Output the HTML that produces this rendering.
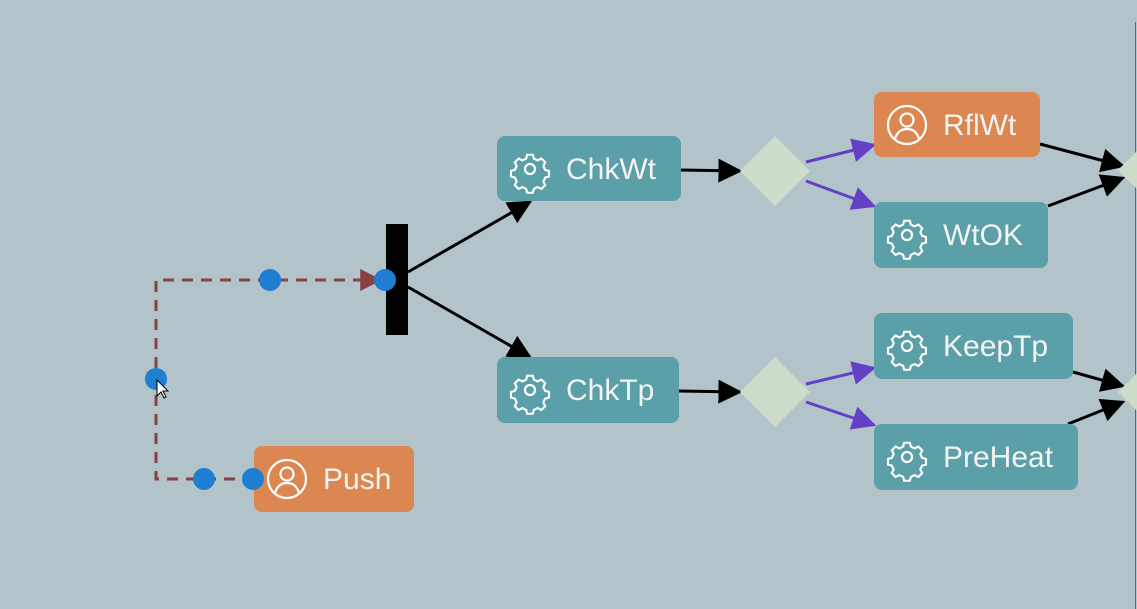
<!DOCTYPE html>
<html><head><style>
body{margin:0;width:1137px;height:609px;background:#b2c3c9;overflow:hidden;font-family:"Liberation Sans",sans-serif;position:relative}
.n{position:absolute;border-radius:8px;color:#f4f4f4;font-size:30px;display:flex;align-items:center;box-sizing:border-box;padding-left:69px;padding-top:2px}
.t{background:#5b9fa8}.o{background:#dc8651}
svg{position:absolute;left:0;top:0}
</style></head><body>
<svg width="1137" height="609">
<defs>
<marker id="ab" viewBox="0 0 10 10" refX="9" refY="5" markerWidth="24" markerHeight="24" markerUnits="userSpaceOnUse" orient="auto"><path d="M0,0L10,5L0,10z" fill="#000"/></marker>
<marker id="ap" viewBox="0 0 10 10" refX="9" refY="5" markerWidth="24" markerHeight="24" markerUnits="userSpaceOnUse" orient="auto"><path d="M0,0L10,5L0,10z" fill="#6440c4"/></marker>
<marker id="ar" viewBox="0 0 10 10" refX="9" refY="5" markerWidth="22" markerHeight="22" markerUnits="userSpaceOnUse" orient="auto"><path d="M0,0L10,5L0,10z" fill="#874244"/></marker>
</defs>
<line x1="1135.5" y1="22" x2="1135.5" y2="609" stroke="#666" stroke-width="1"/>
<path d="M254,479 H156 V280 H380" fill="none" stroke="#874244" stroke-width="3" stroke-dasharray="11,8" marker-end="url(#ar)"/>
<rect x="386" y="224" width="22" height="111" fill="#000"/>
<g stroke="#000" stroke-width="3" fill="none">
<line x1="408" y1="272" x2="530" y2="202" marker-end="url(#ab)"/>
<line x1="408" y1="287" x2="530" y2="357" marker-end="url(#ab)"/>
<line x1="681" y1="170" x2="740" y2="171" marker-end="url(#ab)"/>
<line x1="679" y1="391" x2="740" y2="392" marker-end="url(#ab)"/>
<line x1="1040" y1="144" x2="1123" y2="166" marker-end="url(#ab)"/>
<line x1="1048" y1="206" x2="1123" y2="178" marker-end="url(#ab)"/>
<line x1="1073" y1="372" x2="1123" y2="386" marker-end="url(#ab)"/>
<line x1="1068" y1="424" x2="1123" y2="402" marker-end="url(#ab)"/>
</g>
<g stroke="#6440c4" stroke-width="3">
<line x1="806" y1="162" x2="874" y2="145" marker-end="url(#ap)"/>
<line x1="806" y1="181" x2="874" y2="206" marker-end="url(#ap)"/>
<line x1="806" y1="384" x2="874" y2="368" marker-end="url(#ap)"/>
<line x1="806" y1="402" x2="874" y2="425" marker-end="url(#ap)"/>
</g>
<g fill="#cddccb">
<path d="M740,171L775,136L810,171L775,206z"/>
<path d="M740,392L775,357L810,392L775,427z"/>
<path d="M1118,170L1150,138L1182,170L1150,202z"/>
<path d="M1118,392L1150,360L1182,392L1150,424z"/>
</g>
</svg>
<div class="n t" style="left:497px;top:136px;width:184px;height:65px">ChkWt</div>
<div class="n t" style="left:497px;top:357px;width:182px;height:66px">ChkTp</div>
<div class="n o" style="left:874px;top:92px;width:166px;height:65px">RflWt</div>
<div class="n t" style="left:874px;top:202px;width:174px;height:66px">WtOK</div>
<div class="n t" style="left:874px;top:313px;width:199px;height:66px">KeepTp</div>
<div class="n t" style="left:874px;top:424px;width:204px;height:66px">PreHeat</div>
<div class="n o" style="left:254px;top:446px;width:160px;height:66px">Push</div>
<svg width="1137" height="609" style="pointer-events:none">
<g fill="none" stroke="#fff" stroke-width="2.2">
<g transform="translate(530,169)"><circle r="5"/><path d="M-3,-15h6l1,4 4,2 4,-2 4,4 -2,4 2,4 4,1v6l-4,1 -2,4 2,4 -4,4 -4,-2 -4,2 -1,4h-6l-1,-4 -4,-2 -4,2 -4,-4 2,-4 -2,-4 -4,-1v-6l4,-1 2,-4 -2,-4 4,-4 4,2 4,-2z" transform="scale(0.95)"/></g>
<g transform="translate(530,390)"><circle r="5"/><path d="M-3,-15h6l1,4 4,2 4,-2 4,4 -2,4 2,4 4,1v6l-4,1 -2,4 2,4 -4,4 -4,-2 -4,2 -1,4h-6l-1,-4 -4,-2 -4,2 -4,-4 2,-4 -2,-4 -4,-1v-6l4,-1 2,-4 -2,-4 4,-4 4,2 4,-2z" transform="scale(0.95)"/></g>
<g transform="translate(907,235)"><circle r="5"/><path d="M-3,-15h6l1,4 4,2 4,-2 4,4 -2,4 2,4 4,1v6l-4,1 -2,4 2,4 -4,4 -4,-2 -4,2 -1,4h-6l-1,-4 -4,-2 -4,2 -4,-4 2,-4 -2,-4 -4,-1v-6l4,-1 2,-4 -2,-4 4,-4 4,2 4,-2z" transform="scale(0.95)"/></g>
<g transform="translate(907,346)"><circle r="5"/><path d="M-3,-15h6l1,4 4,2 4,-2 4,4 -2,4 2,4 4,1v6l-4,1 -2,4 2,4 -4,4 -4,-2 -4,2 -1,4h-6l-1,-4 -4,-2 -4,2 -4,-4 2,-4 -2,-4 -4,-1v-6l4,-1 2,-4 -2,-4 4,-4 4,2 4,-2z" transform="scale(0.95)"/></g>
<g transform="translate(907,457)"><circle r="5"/><path d="M-3,-15h6l1,4 4,2 4,-2 4,4 -2,4 2,4 4,1v6l-4,1 -2,4 2,4 -4,4 -4,-2 -4,2 -1,4h-6l-1,-4 -4,-2 -4,2 -4,-4 2,-4 -2,-4 -4,-1v-6l4,-1 2,-4 -2,-4 4,-4 4,2 4,-2z" transform="scale(0.95)"/></g>
<g transform="translate(907,125)"><circle r="19"/><circle cy="-5" r="6.5"/><path d="M-12,14c2,-7 6,-10 12,-10s10,3 12,10"/></g>
<g transform="translate(287,479)"><circle r="19"/><circle cy="-5" r="6.5"/><path d="M-12,14c2,-7 6,-10 12,-10s10,3 12,10"/></g>
</g>
<g fill="#1e7fd2">
<circle cx="270" cy="280" r="11"/><circle cx="385" cy="280" r="11"/>
<circle cx="156" cy="379" r="11"/><circle cx="204" cy="479" r="11"/><circle cx="253" cy="479" r="11"/>
</g>
<path d="M157,380v16l4,-4 3,6 2,-1 -3,-6 5,0z" fill="#fff" stroke="#000" stroke-width="1"/>
</svg>
</body></html>
